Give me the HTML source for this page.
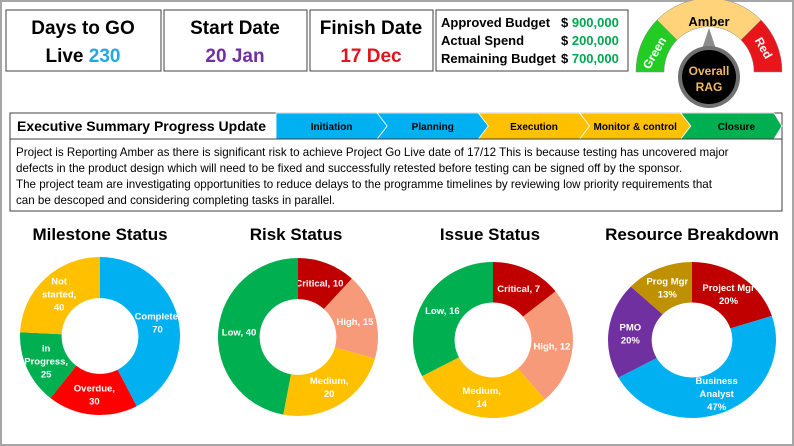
<!DOCTYPE html>
<html><head><meta charset="utf-8"><style>
body{margin:0;background:#fff;font-family:"Liberation Sans",sans-serif}
svg{display:block}
text{font-family:"Liberation Sans",sans-serif}
</style></head><body>
<svg id="s" width="794" height="446" viewBox="0 0 794 446">
<rect x="1" y="1" width="792" height="444" fill="#fff" stroke="#a6a6a6" stroke-width="2"/>
<g>
<rect x="6" y="10" width="155" height="61" fill="#fff" stroke="#404040"/>
<text x="83" y="34" text-anchor="middle" font-size="19" font-weight="bold" fill="#000">Days to GO</text>
<text x="83" y="62" text-anchor="middle" font-size="19" font-weight="bold" fill="#000">Live <tspan fill="#1fa9e0">230</tspan></text>
</g>
<g>
<rect x="164" y="10" width="143" height="61" fill="#fff" stroke="#404040"/>
<text x="235" y="34" text-anchor="middle" font-size="19" font-weight="bold">Start Date</text>
<text x="235" y="62" text-anchor="middle" font-size="19" font-weight="bold" fill="#7030a0">20 Jan</text>
</g>
<g>
<rect x="310" y="10" width="123" height="61" fill="#fff" stroke="#404040"/>
<text x="371" y="34" text-anchor="middle" font-size="19" font-weight="bold">Finish Date</text>
<text x="371" y="62" text-anchor="middle" font-size="19" font-weight="bold" fill="#e0151b">17 Dec</text>
</g>
<g font-size="13" font-weight="bold">
<rect x="436" y="10" width="192" height="61" fill="#fff" stroke="#404040"/>
<text x="441" y="27">Approved Budget</text><text x="561" y="27">$ <tspan fill="#00a651">900,000</tspan></text>
<text x="441" y="45">Actual Spend</text><text x="561" y="45">$ <tspan fill="#00a651">200,000</tspan></text>
<text x="441" y="63">Remaining Budget</text><text x="561" y="63">$ <tspan fill="#00a651">700,000</tspan></text>
</g>
<g>
<path d="M636,72 A73,73 0 0 1 657,20 L677,40 A45,45 0 0 0 664,72 Z" fill="#22cc22" stroke="#888" stroke-width="0.5"/>
<path d="M657,20 A73,73 0 0 1 761,20 L741,40 A45,45 0 0 0 677,40 Z" fill="#ffd37a" stroke="#888" stroke-width="0.5"/>
<path d="M761,20 A73,73 0 0 1 782,72 L754,72 A45,45 0 0 0 741,40 Z" fill="#e8161b" stroke="#888" stroke-width="0.5"/>
<text x="709" y="26" text-anchor="middle" font-size="13" font-weight="bold">Amber</text>
<text transform="translate(658,55) rotate(-60)" text-anchor="middle" font-size="12" font-weight="bold" fill="#fff">Green</text>
<text transform="translate(760,50) rotate(60)" text-anchor="middle" font-size="12" font-weight="bold" fill="#fff">Red</text>
<polygon points="709,28 699,58 719,58" fill="#8c8c8c"/>
<circle cx="709" cy="77" r="31" fill="#707070"/>
<circle cx="709" cy="77" r="27" fill="#000"/>
<text x="709" y="75" text-anchor="middle" font-size="12" font-weight="bold" fill="#f2b860">Overall</text>
<text x="709" y="91" text-anchor="middle" font-size="12" font-weight="bold" fill="#f2b860">RAG</text>
</g>
<g>
<rect x="10" y="113" width="772" height="26" fill="#fff" stroke="#404040"/>
<text x="17" y="131" font-size="14" font-weight="bold">Executive Summary Progress Update</text>
</g>
<g id="chev"></g>
<g font-size="11.6">
<rect x="10" y="139" width="772" height="72" fill="#fff" stroke="#404040"/>
<text x="16" y="156">Project is Reporting Amber as there is significant risk to achieve Project Go Live date of 17/12 This is because testing has uncovered major</text>
<text x="16" y="172">defects in the product design which will need to be fixed and successfully retested before testing can be signed off by the sponsor.</text>
<text x="16" y="188">The project team are investigating opportunities to reduce delays to the programme timelines by reviewing low priority requirements that</text>
<text x="16" y="204">can be descoped and considering completing tasks in parallel.</text>
</g>
<g id="charts"></g>
</svg>
<script>
const phases=["Initiation","Planning","Execution","Monitor & control","Closure"];
const phaseColors=["#00b0f0","#00b0f0","#ffc000","#ffc000","#00b050"];
const msLabels=["Complete,|70","Overdue,|30","in|Progress,|25","Not|started,|40"];
const msValues=[70,30,25,40];
const riskLabels=["Critical, 10","High, 15","Medium,|20","Low, 40"];
const riskValues=[10,15,20,40];
const issueLabels=["Critical, 7","High, 12","Medium,|14","Low, 16"];
const issueValues=[7,12,14,16];
const resLabels=["Project Mgr|20%","Business|Analyst|47%","PMO|20%","Prog Mgr|13%"];
const resValues=[20,47,20,13];
const NS="http://www.w3.org/2000/svg";
const chev=document.getElementById('chev');
const cx0=276,cw=(782-276)/5;
phases.forEach((p,i)=>{
 const x=cx0+i*cw,y1=113,y2=139,t=10;
 const pts=i==0?`${x},${y1} ${x+cw},${y1} ${x+cw+t},${(y1+y2)/2} ${x+cw},${y2} ${x},${y2}`:
  `${x},${y1} ${x+cw},${y1} ${x+cw+t},${(y1+y2)/2} ${x+cw},${y2} ${x},${y2} ${x+t},${(y1+y2)/2}`;
 const pg=document.createElementNS(NS,'polygon');
 
 
 pg.setAttribute('points',i==4?`${x},${y1} ${782-8},${y1} 782,${(y1+y2)/2} ${782-8},${y2} ${x},${y2} ${x+t},${(y1+y2)/2}`:pts);
 pg.setAttribute('fill',phaseColors[i]);pg.setAttribute('stroke','#fff');pg.setAttribute('stroke-width','0.8');
 chev.appendChild(pg);
});
phases.forEach((p,i)=>{
 const tx=document.createElementNS(NS,'text');
 
 
 tx.setAttribute('x',cx0+i*cw+cw/2+5);tx.setAttribute('y',130);
 tx.setAttribute('text-anchor','middle');tx.setAttribute('font-size','10');tx.setAttribute('font-weight','bold');
 tx.textContent=p;chev.appendChild(tx);
});
const charts=document.getElementById('charts');
function donut(title,tx,cx,cy,rx,ry,vals,labs,cols,name){
 const g=document.createElementNS(NS,'g');
 
 
 charts.appendChild(g);
 const t=document.createElementNS(NS,'text');
 
 
 t.setAttribute('x',tx);t.setAttribute('y',240);t.setAttribute('text-anchor','middle');
 t.setAttribute('font-size','17');t.setAttribute('font-weight','bold');t.textContent=title;g.appendChild(t);
 const tot=vals.reduce((a,b)=>a+b,0);let a0=0;const k=0.48;
 vals.forEach((v,i)=>{
  const a1=a0+v/tot*2*Math.PI;
  const P=(a,f)=>[cx+rx*f*Math.sin(a),cy-ry*f*Math.cos(a)];
  const lg=(a1-a0)>Math.PI?1:0;
  const [x0,y0]=P(a0,1),[x1,y1]=P(a1,1),[x2,y2]=P(a1,k),[x3,y3]=P(a0,k);
  const p=document.createElementNS(NS,'path');
  
  
  p.setAttribute('d',`M${x0},${y0} A${rx},${ry} 0 ${lg} 1 ${x1},${y1} L${x2},${y2} A${rx*k},${ry*k} 0 ${lg} 0 ${x3},${y3}Z`);
  p.setAttribute('fill',cols[i]);g.appendChild(p);
  const am=(a0+a1)/2;const [lx,ly]=P(am,0.74);
  const lines=labs[i].split('|');
  lines.forEach((ln,j)=>{
   const l=document.createElementNS(NS,'text');
   
   
   l.setAttribute('x',lx);l.setAttribute('y',ly+4+(j-(lines.length-1)/2)*13);
   l.setAttribute('text-anchor','middle');l.setAttribute('font-size','9.5');l.setAttribute('font-weight','bold');l.setAttribute('fill','#fff');
   l.textContent=ln;g.appendChild(l);
  });
  a0=a1;
 });
}
donut("Milestone Status",100,100,336,80,79,msValues,msLabels,["#00b0f0","#ff0000","#00b050","#ffc000"],"milestone-donut");
donut("Risk Status",296,298,337,80,79,riskValues,riskLabels,["#c00000","#f79a7a","#ffc000","#00b050"],"risk-donut");
donut("Issue  Status",490,493,340,80,78,issueValues,issueLabels,["#c00000","#f79a7a","#ffc000","#00b050"],"issue-donut");
donut("Resource Breakdown",692,692,340,84,78,resValues,resLabels,["#c00000","#00b0f0","#7030a0","#bf9000"],"resource-donut");
</script>
</body></html>
